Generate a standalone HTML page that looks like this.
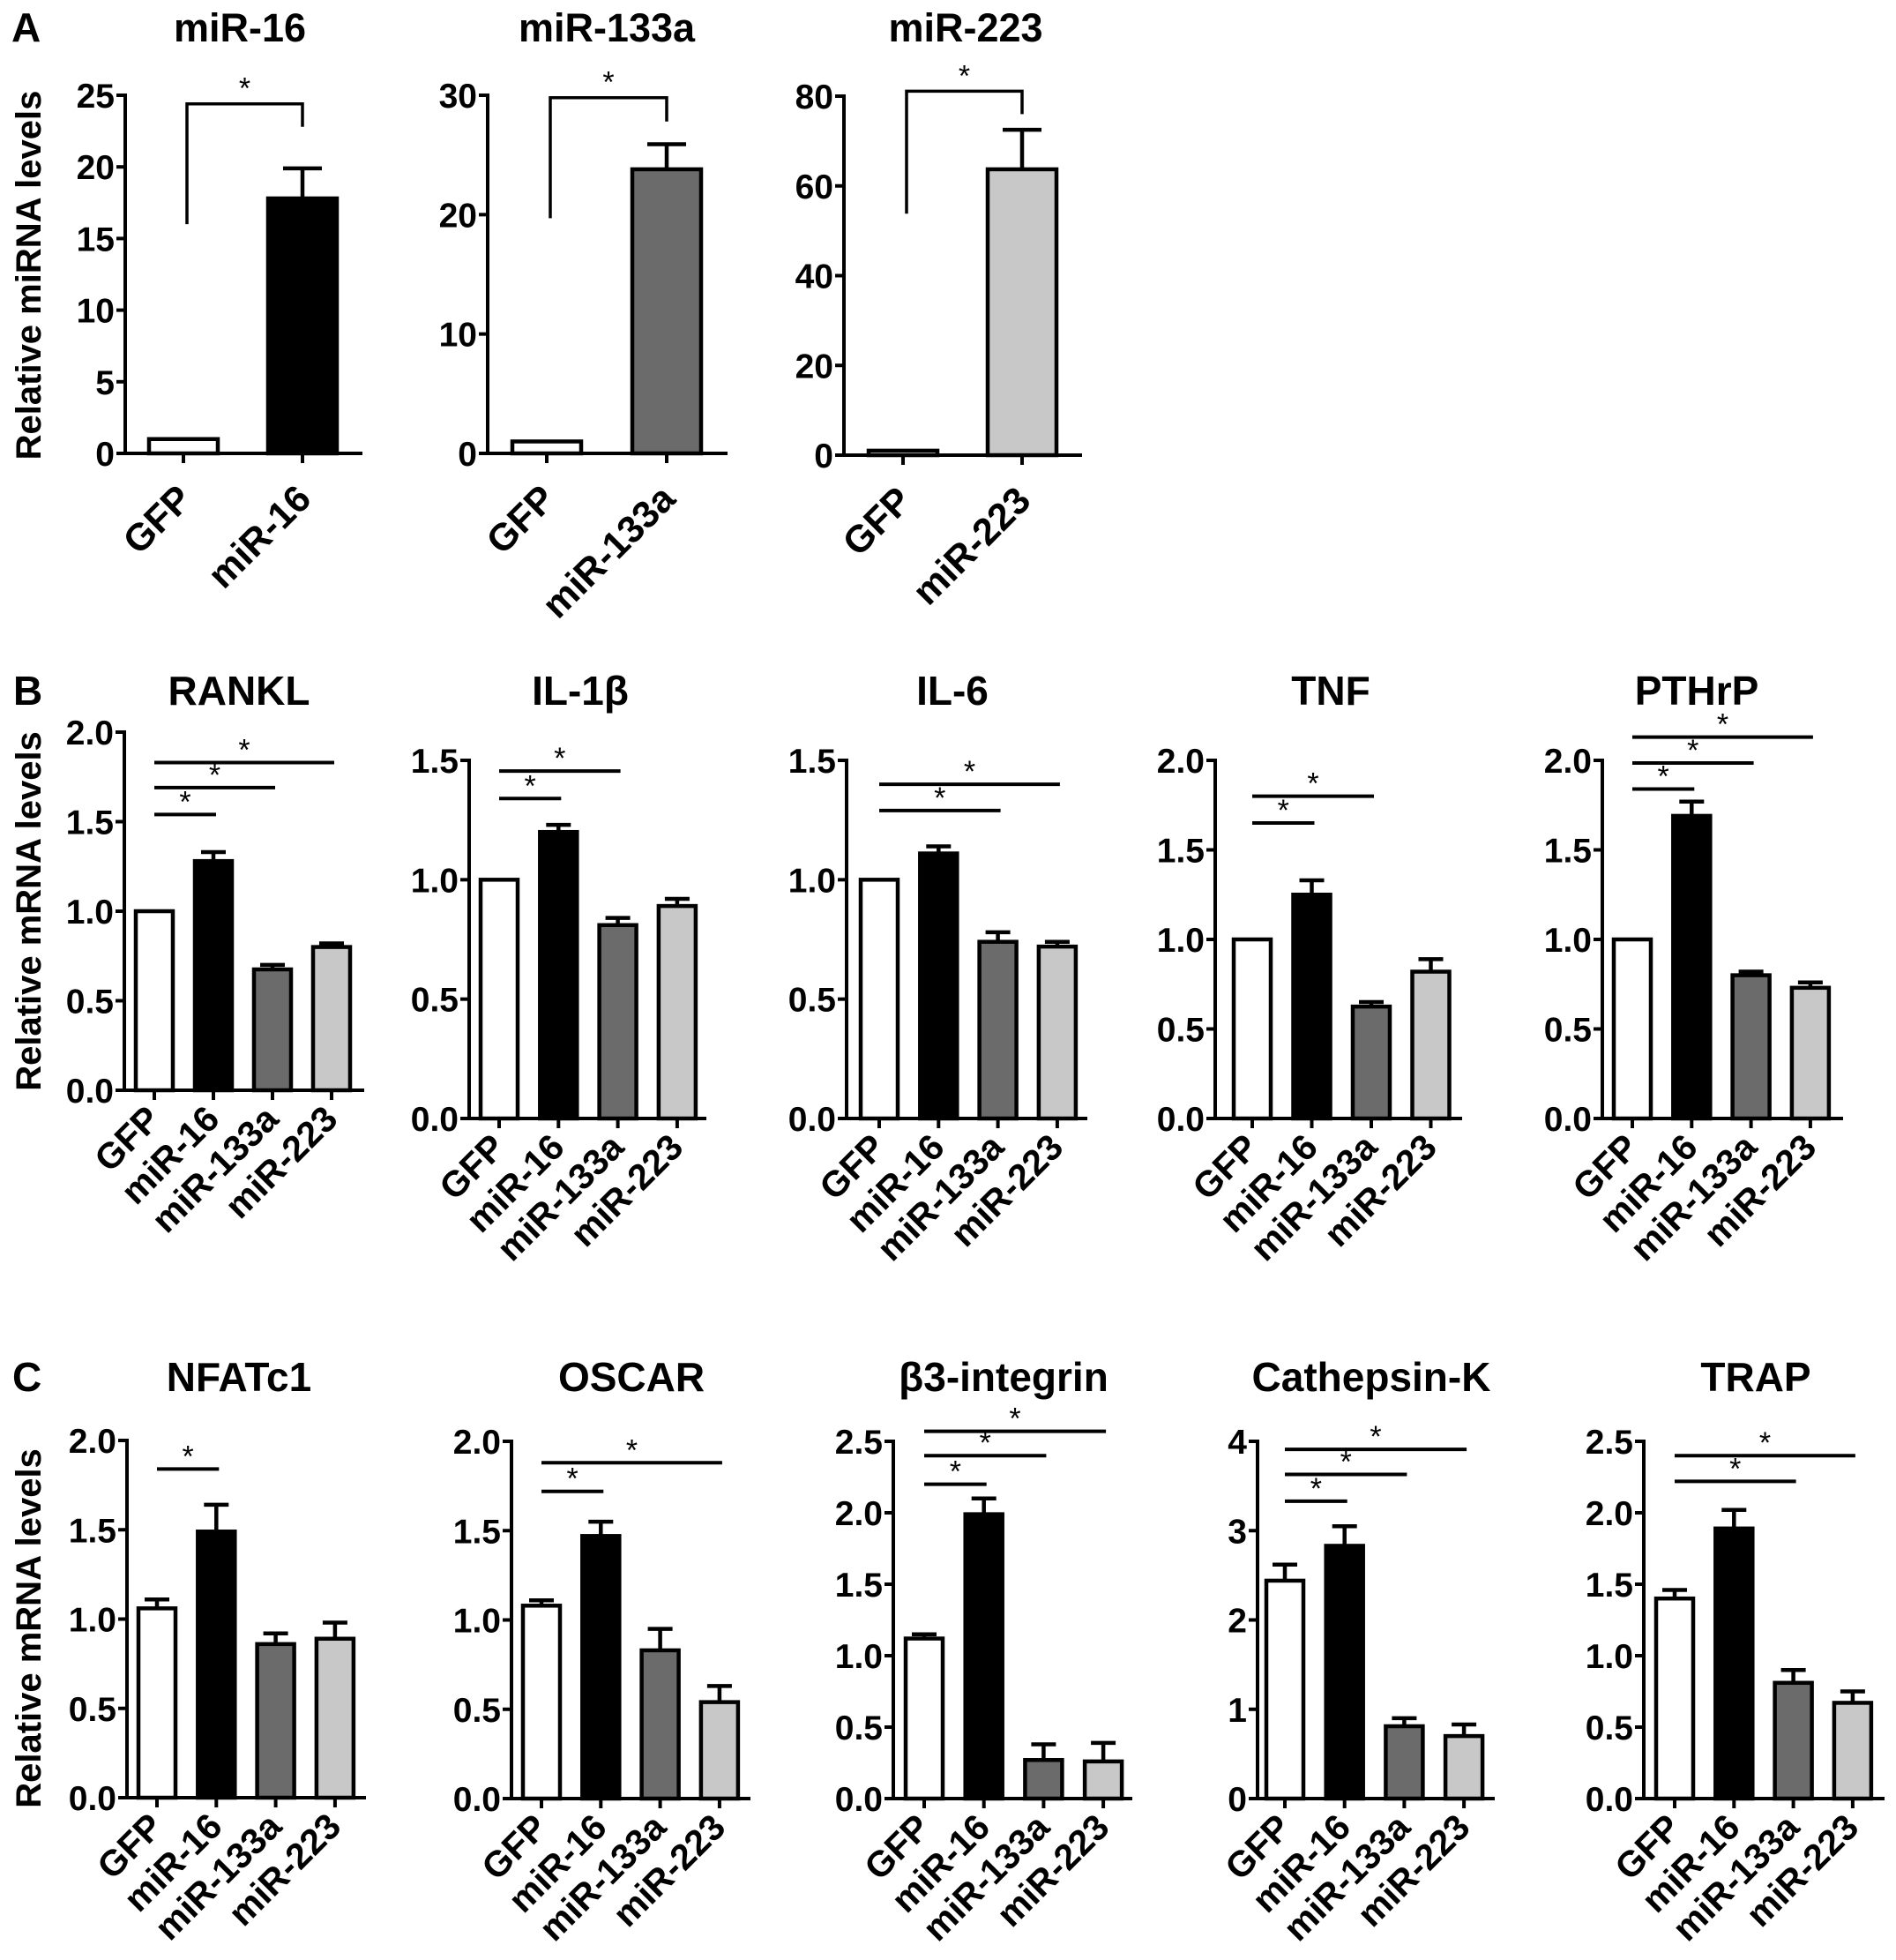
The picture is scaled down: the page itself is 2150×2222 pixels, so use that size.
<!DOCTYPE html>
<html><head><meta charset="utf-8"><style>
html,body{margin:0;padding:0;background:#fff;}
svg{display:block;font-family:"Liberation Sans",Arial,sans-serif;font-weight:bold;}
</style></head><body>
<svg id="fig" width="2150" height="2222" viewBox="0 0 2150 2222" xmlns="http://www.w3.org/2000/svg"></svg>
<script>
// ---- data ----
const catsA1 = ["GFP","miR-16"];
const catsA2 = ["GFP","miR-133a"];
const catsA3 = ["GFP","miR-223"];
const catsBC = ["GFP","miR-16","miR-133a","miR-223"];

const valsA1 = [1, 17.8];   const errA1 = [1, 19.9];
const valsA2 = [1, 23.8];   const errA2 = [1, 25.9];
const valsA3 = [1, 63.7];   const errA3 = [1, 72.5];
const ticksA1 = [0,5,10,15,20,25];
const ticksA2 = [0,10,20,30];
const ticksA3 = [0,20,40,60,80];
const bracketA1 = [16.0, 24.4, 22.8];
const bracketA2 = [19.7, 29.8, 27.8];
const bracketA3 = [53.8, 81.1, 76.0];

const valsRANKL = [1.0, 1.28, 0.675, 0.80];  const errRANKL = [1.0, 1.33, 0.70, 0.82];
const valsIL1B  = [1.0, 1.20, 0.81, 0.89];   const errIL1B  = [1.0, 1.23, 0.84, 0.92];
const valsIL6   = [1.0, 1.11, 0.74, 0.72];   const errIL6   = [1.0, 1.14, 0.78, 0.74];
const valsTNF   = [1.0, 1.25, 0.625, 0.82];  const errTNF   = [1.0, 1.33, 0.65, 0.89];
const valsPTHRP = [1.0, 1.69, 0.80, 0.73];   const errPTHRP = [1.0, 1.77, 0.82, 0.76];
const valsNFAT  = [1.06, 1.49, 0.86, 0.89];  const errNFAT  = [1.11, 1.64, 0.92, 0.98];
const valsOSCAR = [1.08, 1.47, 0.83, 0.54];  const errOSCAR = [1.11, 1.55, 0.95, 0.63];
const valsB3I   = [1.12, 1.99, 0.27, 0.26];  const errB3I   = [1.15, 2.10, 0.38, 0.39];
const valsCATK  = [2.44, 2.83, 0.81, 0.70];  const errCATK  = [2.62, 3.05, 0.90, 0.83];
const valsTRAP  = [1.40, 1.89, 0.81, 0.67];  const errTRAP  = [1.46, 2.02, 0.90, 0.75];

const ticks20 = [0,0.5,1.0,1.5,2.0];
const ticks15 = [0,0.5,1.0,1.5];
const ticks25 = [0,0.5,1.0,1.5,2.0,2.5];
const ticks4  = [0,1,2,3,4];

// significance: [fromIndex, toIndex, level]
const sigRANKL = [[0,1,1.54],[0,2,1.69],[0,3,1.83]];
const sigIL1B  = [[0,1,1.34],[0,2,1.455]];
const sigIL6   = [[0,2,1.29],[0,3,1.40]];
const sigTNF   = [[0,1,1.65],[0,2,1.80]];
const sigPTHRP = [[0,1,1.84],[0,2,1.985],[0,3,2.13]];
const sigNFAT  = [[0,1,1.84]];
const sigOSCAR = [[0,1,1.72],[0,3,1.88]];
const sigB3I   = [[0,1,2.20],[0,2,2.40],[0,3,2.57]];
const sigCATK  = [[0,1,3.33],[0,2,3.63],[0,3,3.91]];
const sigTRAP  = [[0,2,2.22],[0,3,2.40]];

const fills = ["#ffffff","#000000","#6b6b6b","#c8c8c8"];
const NS = "http://www.w3.org/2000/svg";
const svg = document.getElementById('fig');

function mk(tag, attrs, parent, text){
  const e = document.createElementNS(NS, tag);
  for (const k in attrs) e.setAttribute(k, attrs[k]);
  if (text !== undefined) e.textContent = text;
  (parent || svg).appendChild(e);
  return e;
}

function chart(o){
  const g = mk('g', {});
  
  
  const ymax = o.ticks[o.ticks.length-1];
  const Y = v => o.y0 - (o.y0 - o.ytop) * v / ymax;
  const X = i => o.first + i * o.step;
  const fmt = o.fmt || (v => String(v));
  const t = mk('text', {x:o.titleX, y:o.titleY, 'font-size':o.titleSize||46, 'text-anchor':'middle'}, g, o.title);
  
  
  const colorIdx = o.colors;
  o.vals.forEach((v,i)=>{
    const cx = X(i), top = Y(v);
    const ey = Y(o.err[i]);
    if (o.err[i] > v) {
      const eb = mk('path', {d:`M${cx},${top} V${ey} M${cx-o.cap/2},${ey} H${cx+o.cap/2}`, stroke:'#000','stroke-width':4.5,fill:'none'}, g);
      
      
    }
    const r = mk('rect', {x:cx-o.bw/2, y:top, width:o.bw, height:Math.max(o.y0-top,0.5), fill:fills[colorIdx[i]], stroke:'#000','stroke-width':4.5}, g);
    
    
    mk('line', {x1:cx, y1:o.y0, x2:cx, y2:o.y0+11, stroke:'#000','stroke-width':4}, g);
    const lx = cx + o.lblDx, ly = o.y0 + o.lblDy;
    const lt = mk('text', {x:lx, y:ly, 'font-size':o.catSize, 'text-anchor':'end', transform:`rotate(-45 ${lx} ${ly})`}, g, o.cats[i]);
    
    
  });
  const ya = mk('line', {x1:o.ax, y1:o.y0+2, x2:o.ax, y2:o.ytop-2, stroke:'#000','stroke-width':4}, g);
  
  
  const xa = mk('line', {x1:o.ax-2, y1:o.y0, x2:o.xend, y2:o.y0, stroke:'#000','stroke-width':4}, g);
  
  
  o.ticks.forEach(tv=>{
    const y = Y(tv);
    mk('line', {x1:o.ax-10, y1:y, x2:o.ax, y2:y, stroke:'#000','stroke-width':4}, g);
    const tl = mk('text', {x:o.ax-12, y:y+14, 'font-size':o.tickSize, 'text-anchor':'end'}, g, fmt(tv));
    
    
  });
  (o.sig||[]).forEach(s=>{
    const y = Y(s[2]);
    const x1 = X(s[0]), x2 = X(s[1]) + 3;
    const sl = mk('line', {x1:x1, y1:y, x2:x2, y2:y, stroke:'#000','stroke-width':4}, g);
    
    
    const st = mk('text', {x:(x1+x2)/2, y:y-3, 'font-size':34, 'font-weight':'normal', 'text-anchor':'middle'}, g, '*');
    
    
  });
  if (o.bracket){
    const b = o.bracket, xl = X(0)+4, xr = X(1);
    const bp = mk('path', {d:`M${xl},${Y(b[0])} V${Y(b[1])} H${xr} V${Y(b[2])}`, stroke:'#000','stroke-width':3.5, fill:'none'}, g);
    
    
    const st = mk('text', {x:(xl+xr)/2, y:Y(b[1])-6, 'font-size':34, 'font-weight':'normal', 'text-anchor':'middle'}, g, '*');
    
    
  }
}

const f1 = v => v.toFixed(1);
const A = {bw:78, cap:44, tickSize:39, catSize:43, titleSize:45, lblDx:12, lblDy:54};
chart(Object.assign({}, A, {name:'mir16', title:'miR-16', titleX:272, titleY:47, ax:142, y0:514, ytop:108, ticks:ticksA1, first:208, step:135, xend:411, cats:catsA1, vals:valsA1, err:errA1, colors:[0,1], bracket:bracketA1}));
chart(Object.assign({}, A, {name:'mir133a', title:'miR-133a', titleX:688, titleY:47, ax:553, y0:514, ytop:108, ticks:ticksA2, first:620, step:136, xend:825, cats:catsA2, vals:valsA2, err:errA2, colors:[0,2], bracket:bracketA2}));
chart(Object.assign({}, A, {name:'mir223', title:'miR-223', titleX:1095, titleY:47, ax:957, y0:516, ytop:109, ticks:ticksA3, first:1024, step:135, xend:1227, cats:catsA3, vals:valsA3, err:errA3, colors:[0,3], bracket:bracketA3}));

const B = {bw:42, cap:28, tickSize:39, catSize:41, lblDx:9, lblDy:35, fmt:f1, cats:catsBC, colors:[0,1,2,3]};
chart(Object.assign({}, B, {name:'rankl', title:'RANKL', titleX:271, titleY:799, ax:141, y0:1236, ytop:830, ticks:ticks20, first:175, step:67, xend:413, vals:valsRANKL, err:errRANKL, sig:sigRANKL}));
chart(Object.assign({}, B, {name:'il1b', title:'IL-1β', titleX:658, titleY:799, ax:532, y0:1268, ytop:862, ticks:ticks15, first:566, step:67.3, xend:801, vals:valsIL1B, err:errIL1B, sig:sigIL1B}));
chart(Object.assign({}, B, {name:'il6', title:'IL-6', titleX:1080, titleY:799, ax:960, y0:1268, ytop:862, ticks:ticks15, first:997, step:67.3, xend:1233, vals:valsIL6, err:errIL6, sig:sigIL6}));
chart(Object.assign({}, B, {name:'tnf', title:'TNF', titleX:1509, titleY:799, ax:1378, y0:1268, ytop:862, ticks:ticks20, first:1420, step:67.5, xend:1658, vals:valsTNF, err:errTNF, sig:sigTNF}));
chart(Object.assign({}, B, {name:'pthrp', title:'PTHrP', titleX:1924, titleY:799, ax:1817, y0:1268, ytop:862, ticks:ticks20, first:1851, step:67.3, xend:2090, vals:valsPTHRP, err:errPTHRP, sig:sigPTHRP}));

chart(Object.assign({}, B, {name:'nfatc1', title:'NFATc1', titleX:271, titleY:1577, ax:144, y0:2038, ytop:1633, ticks:ticks20, first:178, step:67.3, xend:415, vals:valsNFAT, err:errNFAT, sig:sigNFAT}));
chart(Object.assign({}, B, {name:'oscar', title:'OSCAR', titleX:716, titleY:1577, ax:580, y0:2039, ytop:1634, ticks:ticks20, first:614, step:67.3, xend:851, vals:valsOSCAR, err:errOSCAR, sig:sigOSCAR}));
chart(Object.assign({}, B, {name:'b3-integrin', title:'β3-integrin', titleX:1138, titleY:1577, ax:1013, y0:2039, ytop:1634, ticks:ticks25, first:1048, step:67.7, xend:1284, vals:valsB3I, err:errB3I, sig:sigB3I}));
chart(Object.assign({}, B, {name:'cathepsin-k', title:'Cathepsin-K', titleX:1555, titleY:1577, ax:1426, y0:2039, ytop:1634, ticks:ticks4, fmt:v=>String(v), first:1457, step:67.7, xend:1695, vals:valsCATK, err:errCATK, sig:sigCATK}));
chart(Object.assign({}, B, {name:'trap', title:'TRAP', titleX:1991, titleY:1577, ax:1864, y0:2039, ytop:1634, ticks:ticks25, first:1899, step:67.3, xend:2137, vals:valsTRAP, err:errTRAP, sig:sigTRAP}));

[['A',13,47],['B',15,799],['C',14,1577]].forEach(p=>{
  const t = mk('text', {x:p[1], y:p[2], 'font-size':46}, svg, p[0]);
  
  
});
[['Relative miRNA levels',312],['Relative mRNA levels',1033],['Relative mRNA levels',1846]].forEach((p,i)=>{
  const t = mk('text', {x:46, y:p[1], 'font-size':40, 'text-anchor':'middle', transform:`rotate(-90 46 ${p[1]})`}, svg, p[0]);
  
  
});
</script>
</body></html>
